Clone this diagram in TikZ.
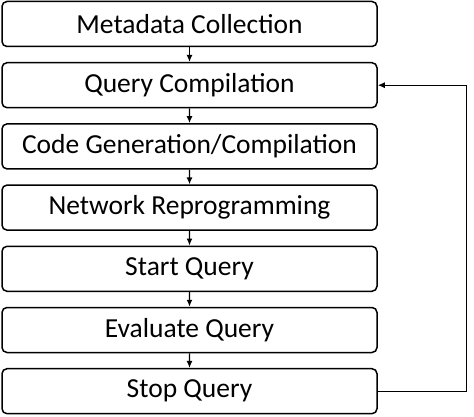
\documentclass[tikz,border=0pt]{standalone}
\usepackage{fontspec}
\setmainfont{Carlito}
\usepackage{tikz}
\usetikzlibrary{trees,calc,arrows.meta}
\tikzset{
grow=down,
step box/.style={draw=black,line width=1.5pt,rounded corners=5pt,
  minimum width=375pt,minimum height=45pt,inner sep=0pt,
  font=\fontsize{27.5}{32}\selectfont},
flow/.style={draw=black,line width=1.3pt,-{Latex[length=7pt,width=6pt]}},
edge from parent/.style={flow},
}

\begin{document}
\begin{tikzpicture}[x=1pt,y=1pt]
\useasboundingbox (0,0) rectangle (474,416);
\node[step box] (meta) at (189.5,392) {Metadata Collection}[
level distance=61.2pt,
every child node/.style={step box},
]
child {
  node (qc) {Query Compilation}
  child {
    node (gen) {Code Generation/Compilation}
    child {
      node (net) {Network Reprogramming}
      child {
        node (start) {Start Query}
        child {
          node (eval) {Evaluate Query}
          child {
            node (stop) {Stop Query}
          }
        }
      }
    }
  }
};
% loop back to the compilation step
\draw[flow] (stop.east) -- ++(89pt,0) |- (qc.east);
\end{tikzpicture}
\end{document}
